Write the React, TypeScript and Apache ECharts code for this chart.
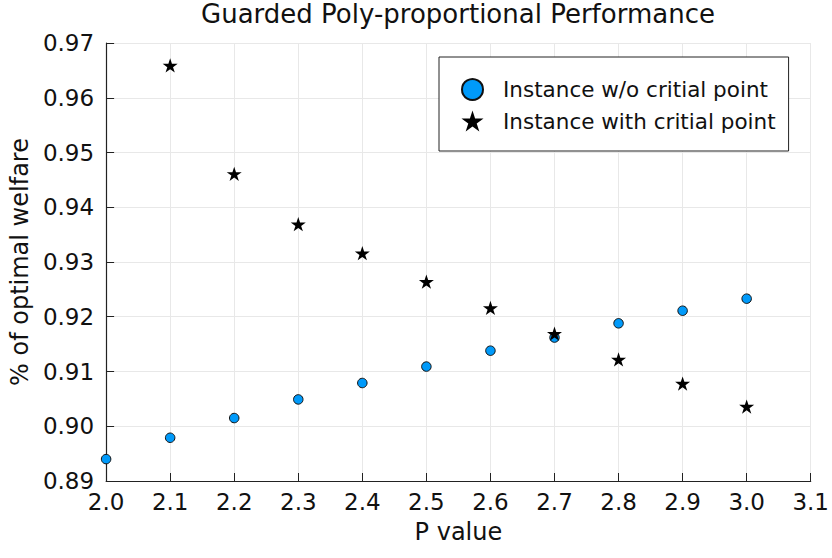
import React, { useEffect, useRef } from "react";
import * as echarts from "echarts";

const pValues = [2.0, 2.1, 2.2, 2.3, 2.4, 2.5, 2.6, 2.7, 2.8, 2.9, 3.0];
const withoutCritical = [0.894, 0.8979, 0.9015, 0.9049, 0.9079, 0.9109, 0.9138, 0.9162, 0.9188, 0.9211, 0.9233];
const withCriticalX = [2.1, 2.2, 2.3, 2.4, 2.5, 2.6, 2.7, 2.8, 2.9, 3.0];
const withCritical = [0.9659, 0.9461, 0.9369, 0.9316, 0.9264, 0.9216, 0.9169, 0.9122, 0.9078, 0.9036];

const titleText = "Guarded Poly-proportional Performance";
const seriesNames = ["Instance w/o critial point", "Instance with critial point"];
const xAxisName = "P value";
const yAxisName = "% of optimal welfare";

const STAR =
  "path://M100 0 L122.45 69.1 L195.1 69.1 L136.3 111.8 L158.8 180.9 L100 138.2 L41.2 180.9 L63.7 111.8 L4.9 69.1 L77.55 69.1 Z";

const FONT = "DejaVu Sans";
const TEXT = "#111";

export default function App() {
  const ref = useRef<HTMLDivElement>(null);
  useEffect(() => {
    document.body.style.margin = "0";
    const chart = echarts.init(ref.current!, null, { renderer: "svg" });
    chart.setOption({
      animation: false,
      backgroundColor: "#fff",
      title: {
        text: titleText,
        left: 458,
        textAlign: "center",
        top: 1,
        padding: 0,
        textStyle: { fontFamily: FONT, fontSize: 26, fontWeight: "normal", color: TEXT },
      },
      legend: {
        orient: "vertical",
        left: 439,
        top: 57,
        padding: [21, 13, 19, 22],
        itemWidth: 51,
        itemHeight: 21,
        itemGap: 9,
        borderColor: "#222",
        borderWidth: 1,
        borderRadius: 0,
        backgroundColor: "#fff",
        textStyle: { fontFamily: FONT, fontSize: 21.5, color: TEXT, lineHeight: 21 },
        data: [
          { name: seriesNames[0], icon: "circle" },
          { name: seriesNames[1], icon: STAR },
        ],
      },
      grid: { left: 104, right: 20, top: 43, bottom: 77, containLabel: false },
      xAxis: {
        type: "value",
        min: 2.0,
        max: 3.1,
        interval: 0.1,
        name: xAxisName,
        nameLocation: "middle",
        nameGap: 39,
        nameTextStyle: { fontFamily: FONT, fontSize: 24, color: TEXT },
        axisLine: { show: true, lineStyle: { color: "#222", width: 1.2 } },
        axisTick: { show: true, inside: true, length: 8, lineStyle: { color: "#222" } },
        axisLabel: {
          fontFamily: FONT,
          fontSize: 23,
          color: TEXT,
          margin: 9,
          formatter: (v: number) => v.toFixed(1),
        },
        splitLine: { show: true, lineStyle: { color: "#e8e8e8", width: 1 } },
      },
      yAxis: {
        type: "value",
        min: 0.89,
        max: 0.97,
        interval: 0.01,
        name: yAxisName,
        nameLocation: "middle",
        nameGap: 63,
        nameTextStyle: { fontFamily: FONT, fontSize: 24, color: TEXT },
        axisLine: { show: true, lineStyle: { color: "#222", width: 1.2 } },
        axisTick: { show: true, inside: true, length: 8, lineStyle: { color: "#222" } },
        axisLabel: {
          fontFamily: FONT,
          fontSize: 23,
          color: TEXT,
          margin: 12,
          formatter: (v: number) => v.toFixed(2),
        },
        splitLine: { show: true, lineStyle: { color: "#e8e8e8", width: 1 } },
      },
      series: [
        {
          name: seriesNames[0],
          type: "scatter",
          symbol: "circle",
          symbolSize: 9.5,
          itemStyle: { color: "#009AFA", borderColor: "#111", borderWidth: 1, opacity: 1 },
          data: pValues.map((x, i) => [x, withoutCritical[i]]),
          z: 2,
        },
        {
          name: seriesNames[1],
          type: "scatter",
          symbol: STAR,
          symbolKeepAspect: true,
          symbolSize: 15,
          itemStyle: { color: "#000", opacity: 1 },
          data: withCriticalX.map((x, i) => [x, withCritical[i]]),
          z: 3,
        },
      ],
    });
    return () => chart.dispose();
  }, []);
  return <div ref={ref} style={{ width: 832, height: 558 }} />;
}
